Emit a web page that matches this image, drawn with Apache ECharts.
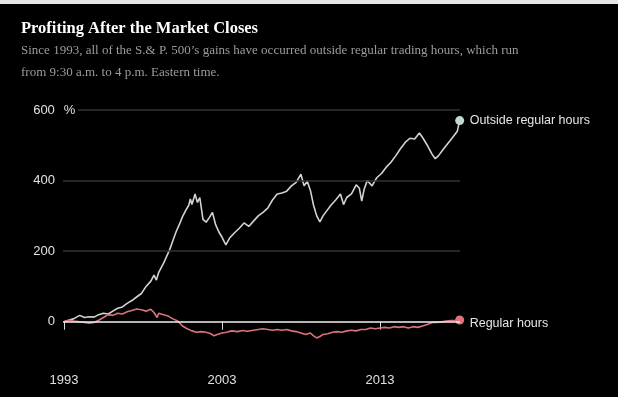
<!DOCTYPE html>
<html>
<head>
<meta charset="utf-8">
<script src="https://cdn.jsdelivr.net/npm/echarts@6/dist/echarts.min.js"></script>
<style>
  html, body { margin: 0; padding: 0; background: #000; }
  #chart { width: 618px; height: 397px; }
</style>
</head>
<body>
<div id="chart"></div>
<script>
// values (year, cumulative % gain)
const outsideYears = [1993.0, 1993.3, 1993.6, 1994.0, 1994.3, 1994.6, 1994.9, 1995.2, 1995.5, 1995.8,
  1996.1, 1996.4, 1996.7, 1997.0, 1997.3, 1997.6, 1997.9, 1998.2, 1998.5, 1998.7,
  1998.85, 1999.0, 1999.3, 1999.5, 1999.7, 1999.9, 2000.1, 2000.3, 2000.5, 2000.7,
  2000.9, 2001.0, 2001.1, 2001.3, 2001.45, 2001.6, 2001.8, 2002.0, 2002.2, 2002.4,
  2002.6, 2002.8, 2003.0, 2003.25, 2003.5, 2003.8, 2004.1, 2004.4, 2004.7, 2005.0,
  2005.3, 2005.6, 2005.9, 2006.2, 2006.5, 2006.8, 2007.1, 2007.4, 2007.7, 2008.0,
  2008.2, 2008.4, 2008.6, 2008.8, 2009.0, 2009.2, 2009.4, 2009.6, 2009.9, 2010.2,
  2010.5, 2010.7, 2010.9, 2011.2, 2011.5, 2011.7, 2011.85, 2012.0, 2012.2, 2012.5,
  2012.8, 2013.1, 2013.4, 2013.7, 2014.0, 2014.3, 2014.6, 2014.9, 2015.2, 2015.5,
  2015.7, 2016.0, 2016.3, 2016.5, 2016.7, 2017.0, 2017.3, 2017.6, 2017.9, 2018.05]
const outsideValues = [0, 4, 8, 18, 12, 14, 13, 20, 24, 22,
  30, 38, 42, 52, 60, 70, 80, 100, 115, 132,
  118, 140, 165, 185, 205, 230, 255, 275, 297, 315,
  330, 348, 332, 362, 338, 352, 290, 282, 295, 310,
  275, 255, 240, 218, 238, 252, 265, 280, 270, 285,
  300, 310, 322, 345, 362, 365, 370, 385, 395, 418,
  385, 398, 372, 330, 300, 283, 300, 312, 330, 345,
  362, 332, 352, 362, 388, 378, 342, 375, 400, 385,
  408, 420, 438, 452, 470, 490, 508, 520, 518, 535,
  522, 500, 475, 462, 470, 488, 505, 522, 540, 570]

const regularYears = [1993.0, 1993.3, 1993.6, 1994.0, 1994.3, 1994.6, 1994.9, 1995.2, 1995.5, 1995.8,
  1996.1, 1996.4, 1996.7, 1997.0, 1997.3, 1997.6, 1997.9, 1998.2, 1998.5, 1998.7,
  1998.9, 1999.0, 1999.3, 1999.6, 1999.9, 2000.2, 2000.5, 2000.8, 2001.1, 2001.4,
  2001.7, 2002.0, 2002.3, 2002.5, 2002.7, 2003.0, 2003.3, 2003.6, 2004.0, 2004.3,
  2004.6, 2005.0, 2005.3, 2005.6, 2005.9, 2006.2, 2006.5, 2006.8, 2007.1, 2007.4,
  2007.7, 2008.0, 2008.3, 2008.6, 2008.8, 2009.0, 2009.2, 2009.4, 2009.7, 2010.0,
  2010.3, 2010.6, 2010.9, 2011.2, 2011.5, 2011.8, 2012.1, 2012.4, 2012.7, 2013.0,
  2013.3, 2013.6, 2013.9, 2014.2, 2014.5, 2014.8, 2015.1, 2015.4, 2015.7, 2016.0,
  2016.3, 2016.6, 2016.9, 2017.2, 2017.5, 2017.8, 2018.05]
const regularValues = [0, 4, 2, 0, -2, -4, -2, 4, 12, 20,
  18, 24, 22, 28, 32, 36, 34, 30, 35, 26,
  12, 24, 20, 16, 8, 2, -12, -20, -26, -30,
  -28, -30, -34, -40, -36, -32, -30, -26, -28, -25,
  -27, -24, -22, -20, -22, -24, -22, -24, -22, -26,
  -28, -32, -36, -32, -40, -46, -42, -36, -34, -30,
  -28, -30, -26, -24, -26, -22, -22, -18, -20, -18,
  -16, -18, -14, -16, -14, -18, -14, -16, -12, -8,
  -2, -2, 0, 2, 3, 4, 5]

const yearTicks = [1993, 2003, 2013]
const pctTicks = [0, 200, 400, 600]
const gridValues = [200, 400, 600]

function withEndDot (xs, ys, color) {
  return xs.map((x, i) => {
    if (i !== xs.length - 1) return [x, ys[i]]
    return { value: [x, ys[i]], symbol: 'circle', symbolSize: 9, itemStyle: { color: color } }
  })
}

const chart = echarts.init(document.getElementById('chart'))
const option = {
  backgroundColor: '#000',
  animation: false,
  graphic: [{
    type: 'rect',
    shape: { x: 0, y: 0, width: 618, height: 4 },
    style: { fill: '#e6e6e6' }
  }],
  title: {
    text: 'Profiting After the Market Closes',
    subtext: 'Since 1993, all of the S.& P. 500\u2019s gains have occurred outside regular trading hours, which run\nfrom 9:30 a.m. to 4 p.m. Eastern time.',
    left: 16,
    top: 13,
    itemGap: 0,
    textStyle: {
      fontFamily: 'Liberation Serif',
      fontWeight: 'bold',
      fontSize: 16.5,
      lineHeight: 22,
      color: '#fff'
    },
    subtextStyle: {
      fontFamily: 'Liberation Serif',
      fontSize: 13,
      lineHeight: 22,
      color: '#9c9c9c'
    }
  },
  grid: { left: 63, right: 158, top: 110, bottom: 40, containLabel: false, outerBoundsMode: 'none' },
  xAxis: {
    type: 'value',
    min: 1992.94,
    max: 2018.07,
    axisLine: { show: false },
    splitLine: { show: false },
    axisTick: {
      show: true,
      customValues: yearTicks,
      length: 8,
      lineStyle: { color: '#ddd', width: 1 }
    },
    axisLabel: {
      customValues: yearTicks,
      formatter: v => String(v),
      margin: 17,
      color: '#e0e0e0',
      fontFamily: 'Liberation Sans',
      fontSize: 13
    }
  },
  yAxis: {
    type: 'value',
    min: -100,
    max: 600,
    interval: 100,
    z: 5,
    axisLine: { show: false },
    axisTick: { show: false },
    splitLine: { show: false },
    axisLabel: {
      customValues: pctTicks,
      align: 'left',
      margin: 30,
      formatter: v => v === 600 ? '{n|600}{p|%}' : '{n|' + v + '}',
      rich: {
        n: { width: 22, align: 'right', color: '#e0e0e0', fontFamily: 'Liberation Sans', fontSize: 13 },
        p: { width: 17, height: 14, align: 'left', padding: [0, 0, 0, 6], color: '#e0e0e0', fontFamily: 'Liberation Sans', fontSize: 13, backgroundColor: '#000' }
      }
    }
  },
  series: [
    {
      name: 'Outside regular hours',
      type: 'line',
      symbol: 'none',
      showSymbol: true,
      data: withEndDot(outsideYears, outsideValues, '#c4d8d3'),
      lineStyle: { color: '#d2d2d2', width: 1.6 },
      itemStyle: { color: '#c4d8d3' },
      z: 3,
      endLabel: {
        show: true,
        formatter: '{a}',
        distance: 10,
        color: '#e6e6e6',
        fontFamily: 'Liberation Sans',
        fontSize: 12.5
      },
      markLine: {
        silent: true,
        symbol: 'none',
        label: { show: false },
        lineStyle: { color: '#333', width: 1.5, type: 'solid' },
        data: gridValues.map(v => ({ yAxis: v }))
      }
    },
    {
      name: 'Regular hours',
      type: 'line',
      symbol: 'none',
      showSymbol: true,
      data: withEndDot(regularYears, regularValues, '#e0707a'),
      lineStyle: { color: '#d9737b', width: 1.6 },
      itemStyle: { color: '#e0707a' },
      z: 3,
      endLabel: {
        show: true,
        formatter: '{a}',
        distance: 10,
        offset: [0, 4],
        color: '#e6e6e6',
        fontFamily: 'Liberation Sans',
        fontSize: 12.5
      },
      markLine: {
        silent: true,
        symbol: 'none',
        label: { show: false },
        lineStyle: { color: '#f2f2f2', width: 1.5, type: 'solid' },
        data: [{ yAxis: 0 }]
      }
    }
  ]
}
chart.setOption(option)
window.addEventListener('resize', function () {
  chart.resize()
})
</script>
</body>
</html>
